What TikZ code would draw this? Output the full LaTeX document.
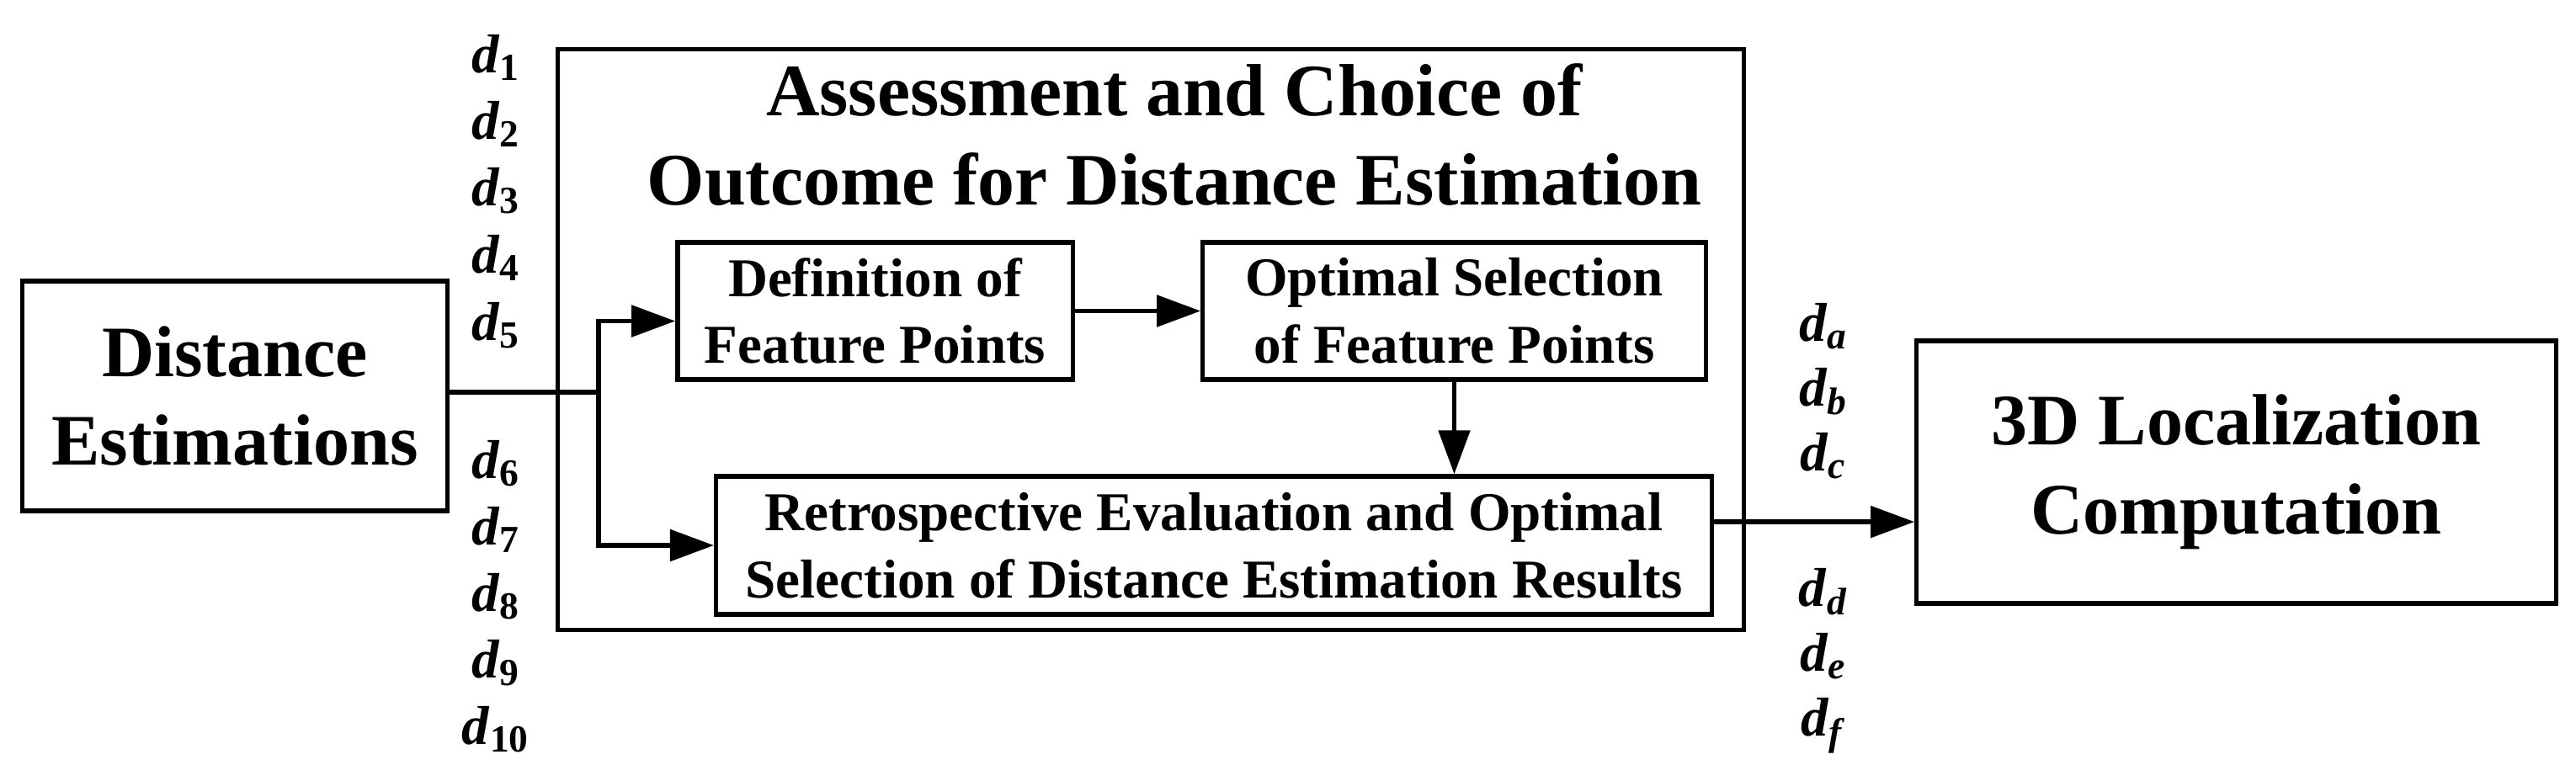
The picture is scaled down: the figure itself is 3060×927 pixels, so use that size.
\documentclass[tikz,border=0pt]{standalone}
\usepackage{fontspec}
\setmainfont{Liberation Serif}
\usetikzlibrary{arrows.meta,positioning,calc}

\newcommand{\dnum}[1]{\textbf{\textit{d}}\textsubscript{\textbf{#1}}}
\newcommand{\dlet}[1]{\textbf{\textit{d}}\textsubscript{\textbf{\textit{#1}}}}

\tikzset{
  box/.style={draw, line width=1.5pt, inner sep=0pt, align=center,
    font=\bfseries\fontsize{18.5}{22.7}\selectfont},
  bigbox/.style={box, font=\bfseries\fontsize{24.5}{30}\selectfont},
  dlabel/.style={anchor=base, inner sep=0pt, font=\fontsize{18.5}{22}\selectfont},
  arr/.style={line width=1.5pt, -{Triangle[length=5.2mm,width=3.7mm]}},
}

\begin{document}
\begin{tikzpicture}[x=0.01cm, y=-0.01cm]
  \useasboundingbox (0,0) rectangle (3060,927);

  % ---- Input and output blocks ------------------------------
  \node[bigbox, minimum width=5.04cm, minimum height=2.73cm] (est) at (279,470.5)
    {Distance\\Estimations};
  \node[bigbox, minimum width=7.59cm, minimum height=3.12cm] (loc) at (2656.5,561)
    {3D Localization\\Computation};

  % ---- Assessment frame and its title -----------------------
  \node[box, minimum width=14.08cm, minimum height=6.89cm] (frame) at (1367,403.5) {};
  \node[font=\bfseries\fontsize{25}{30.1}\selectfont, align=center] (title) at (1395,160)
    {Assessment and Choice of\\Outcome for Distance Estimation};

  % ---- Inner steps ------------------------------------------
  \node[box, minimum width=4.69cm, minimum height=1.63cm] (def) at (1039.5,369.5)
    {Definition of\\Feature Points};
  \node[box, minimum width=5.97cm, minimum height=1.63cm] (opt) at (1727.5,369.5)
    {Optimal Selection\\of Feature Points};
  \node[box, minimum width=11.82cm, minimum height=1.64cm] (retro) at (1442,648)
    {Retrospective Evaluation and Optimal\\Selection of Distance Estimation Results};

  % ---- Connectors -------------------------------------------
  \coordinate (split) at (711,466);
  \coordinate (defin) at ($(def.west)+(0,12)$);
  \coordinate (out) at ($(retro.north east)!0.335!(retro.south east)$);
  \draw[line width=1.5pt] (est.east |- split) -- (split);
  \draw[arr] (split) |- (defin);
  \draw[arr] (split) |- (retro.west);
  \draw[arr] (def.east) -- (opt.west);
  \draw[arr] (opt.south) -- (opt.south |- retro.north);
  \draw[arr] (out) -- (out -| loc.west);

  % ---- Distance labels, left side ---------------------------
  \node[dlabel] (d1)  at (589,86)  {\dnum{1}};
  \node[dlabel] (d2)  at (589,165) {\dnum{2}};
  \node[dlabel] (d3)  at (589,244) {\dnum{3}};
  \node[dlabel] (d4)  at (589,324) {\dnum{4}};
  \node[dlabel] (d5)  at (589,404) {\dnum{5}};
  \node[dlabel] (d6)  at (589,568) {\dnum{6}};
  \node[dlabel] (d7)  at (589,647) {\dnum{7}};
  \node[dlabel] (d8)  at (589,726) {\dnum{8}};
  \node[dlabel] (d9)  at (589,805) {\dnum{9}};
  \node[dlabel] (d10) at (589,884) {\dnum{10}};

  % ---- Distance labels, right side --------------------------
  \node[dlabel] (da) at (2166,405) {\dlet{a}};
  \node[dlabel] (db) at (2166,482) {\dlet{b}};
  \node[dlabel] (dc) at (2166,559) {\dlet{c}};
  \node[dlabel] (dd) at (2166,720) {\dlet{d}};
  \node[dlabel] (de) at (2166,797) {\dlet{e}};
  \node[dlabel] (df) at (2166,874) {\dlet{f}};

\end{tikzpicture}
\end{document}
